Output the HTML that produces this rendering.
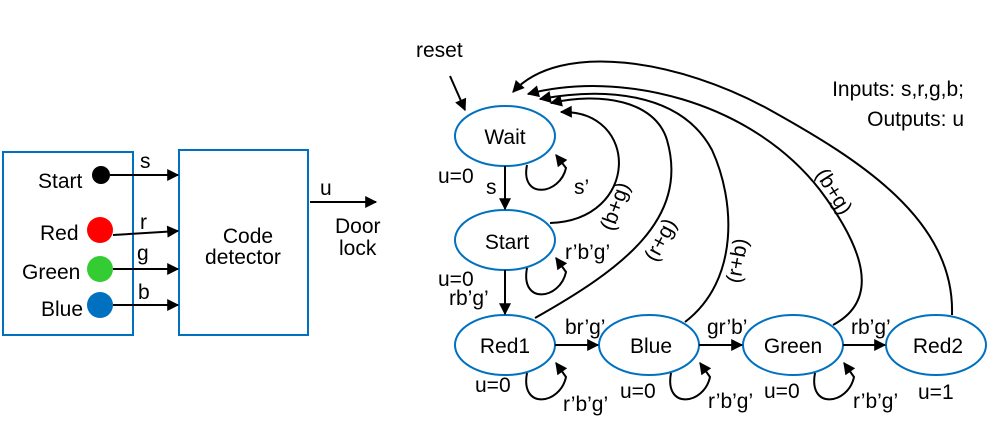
<!DOCTYPE html>
<html><head><meta charset="utf-8"><style>
html,body{margin:0;padding:0;background:#fff}
svg{display:block}
text{font-family:"Liberation Sans",sans-serif;font-size:21px;fill:#000}
.m{text-anchor:middle}
</style></head><body>
<svg width="1005" height="428" viewBox="0 0 1005 428" xmlns="http://www.w3.org/2000/svg">
<defs>
<marker id="a" viewBox="0 0 10 10" refX="9" refY="5" markerWidth="18" markerHeight="12" markerUnits="userSpaceOnUse" orient="auto"><path d="M0,0L10,5L0,10z" fill="#000"/></marker>
</defs>
<g fill="none" stroke="#0070c0" stroke-width="2">
<rect x="3" y="152" width="130" height="183"/>
<rect x="179" y="150" width="129" height="185"/>
<ellipse cx="505" cy="136" rx="50" ry="30"/>
<ellipse cx="505" cy="240" rx="50" ry="30"/>
<ellipse cx="505" cy="345" rx="50" ry="30"/>
<ellipse cx="649" cy="345" rx="50" ry="30"/>
<ellipse cx="793" cy="345" rx="50" ry="30"/>
<ellipse cx="936" cy="345" rx="50" ry="30"/>
</g>
<circle cx="101" cy="175" r="9" fill="#000"/>
<circle cx="100" cy="230" r="13" fill="#f00"/>
<circle cx="100" cy="269" r="13" fill="#33cc33"/>
<circle cx="100" cy="305" r="13" fill="#0070c0"/>
<g stroke="#000" stroke-width="2" fill="none" marker-end="url(#a)">
<line x1="110" y1="175" x2="178" y2="175"/>
<line x1="113" y1="235" x2="178" y2="231"/>
<line x1="113" y1="269" x2="178" y2="269"/>
<line x1="113" y1="305" x2="178" y2="305"/>
<line x1="310" y1="202" x2="376" y2="202"/>
<line x1="450" y1="76" x2="465" y2="110"/>
<line x1="505" y1="166" x2="505" y2="209"/>
<line x1="505" y1="270" x2="505" y2="314"/>
<line x1="555" y1="345" x2="598" y2="345"/>
<line x1="699" y1="345" x2="742" y2="345"/>
<line x1="843" y1="345" x2="885" y2="345"/>
<path d="M527,165 C520,200 560,195 566,168 L556,155"/>
<path d="M527,268 C520,305 560,300 566,272 L556,258"/>
<path d="M527,373 C520,410 560,405 566,377 L556,363"/>
<path d="M671,373 C664,410 704,405 710,377 L700,363"/>
<path d="M815,373 C808,410 848,405 854,377 L844,363"/>
<path d="M550,223 C640,220 640,110 561,112"/>
<path d="M535,318 C620,270 690,220 667,140 C655,100 600,92 551,103"/>
<path d="M685,322 C740,280 735,200 712,150 C680,90 600,88 540,99"/>
<path d="M833,325 C880,300 865,250 820,190 C750,100 620,70 528,94"/>
<path d="M952,315 C955,220 860,160 770,110 C680,60 560,40 513,92"/>
</g>
<text x="38" y="188">Start</text>
<text x="40" y="240">Red</text>
<text x="22" y="279">Green</text>
<text x="41" y="316">Blue</text>
<text x="140" y="168">s</text>
<text x="140" y="229">r</text>
<text x="137" y="260">g</text>
<text x="138" y="299">b</text>
<text x="248" y="243" class="m">Code</text>
<text x="243" y="264" class="m">detector</text>
<text x="320" y="195">u</text>
<text x="335" y="233">Door</text>
<text x="339" y="255">lock</text>
<text x="416" y="57">reset</text>
<text x="505" y="144" class="m">Wait</text>
<text x="507" y="249" class="m">Start</text>
<text x="505" y="353" class="m">Red1</text>
<text x="651" y="353" class="m">Blue</text>
<text x="793" y="353" class="m">Green</text>
<text x="938" y="353" class="m">Red2</text>
<text x="438" y="183">u=0</text>
<text x="486" y="194">s</text>
<text x="574" y="194">s’</text>
<text x="438" y="286">u=0</text>
<text x="449" y="305">rb’g’</text>
<text x="565" y="259">r’b’g’</text>
<text x="565" y="334">br’g’</text>
<text x="707" y="334">gr’b’</text>
<text x="851" y="334">rb’g’</text>
<text x="475" y="392">u=0</text>
<text x="620" y="398">u=0</text>
<text x="764" y="398">u=0</text>
<text x="918" y="399">u=1</text>
<text x="563" y="411">r’b’g’</text>
<text x="708" y="408">r’b’g’</text>
<text x="853" y="408">r’b’g’</text>
<text x="964" y="96" text-anchor="end">Inputs: s,r,g,b;</text>
<text x="964" y="126" text-anchor="end">Outputs: u</text>
<text transform="translate(613,232) rotate(-70)">(b+g)</text>
<text transform="translate(656,263) rotate(-62)">(r+g)</text>
<text transform="translate(740,284) rotate(-80)">(r+b)</text>
<text transform="translate(815,174) rotate(58)">(b+g)</text>
</svg>
</body></html>
